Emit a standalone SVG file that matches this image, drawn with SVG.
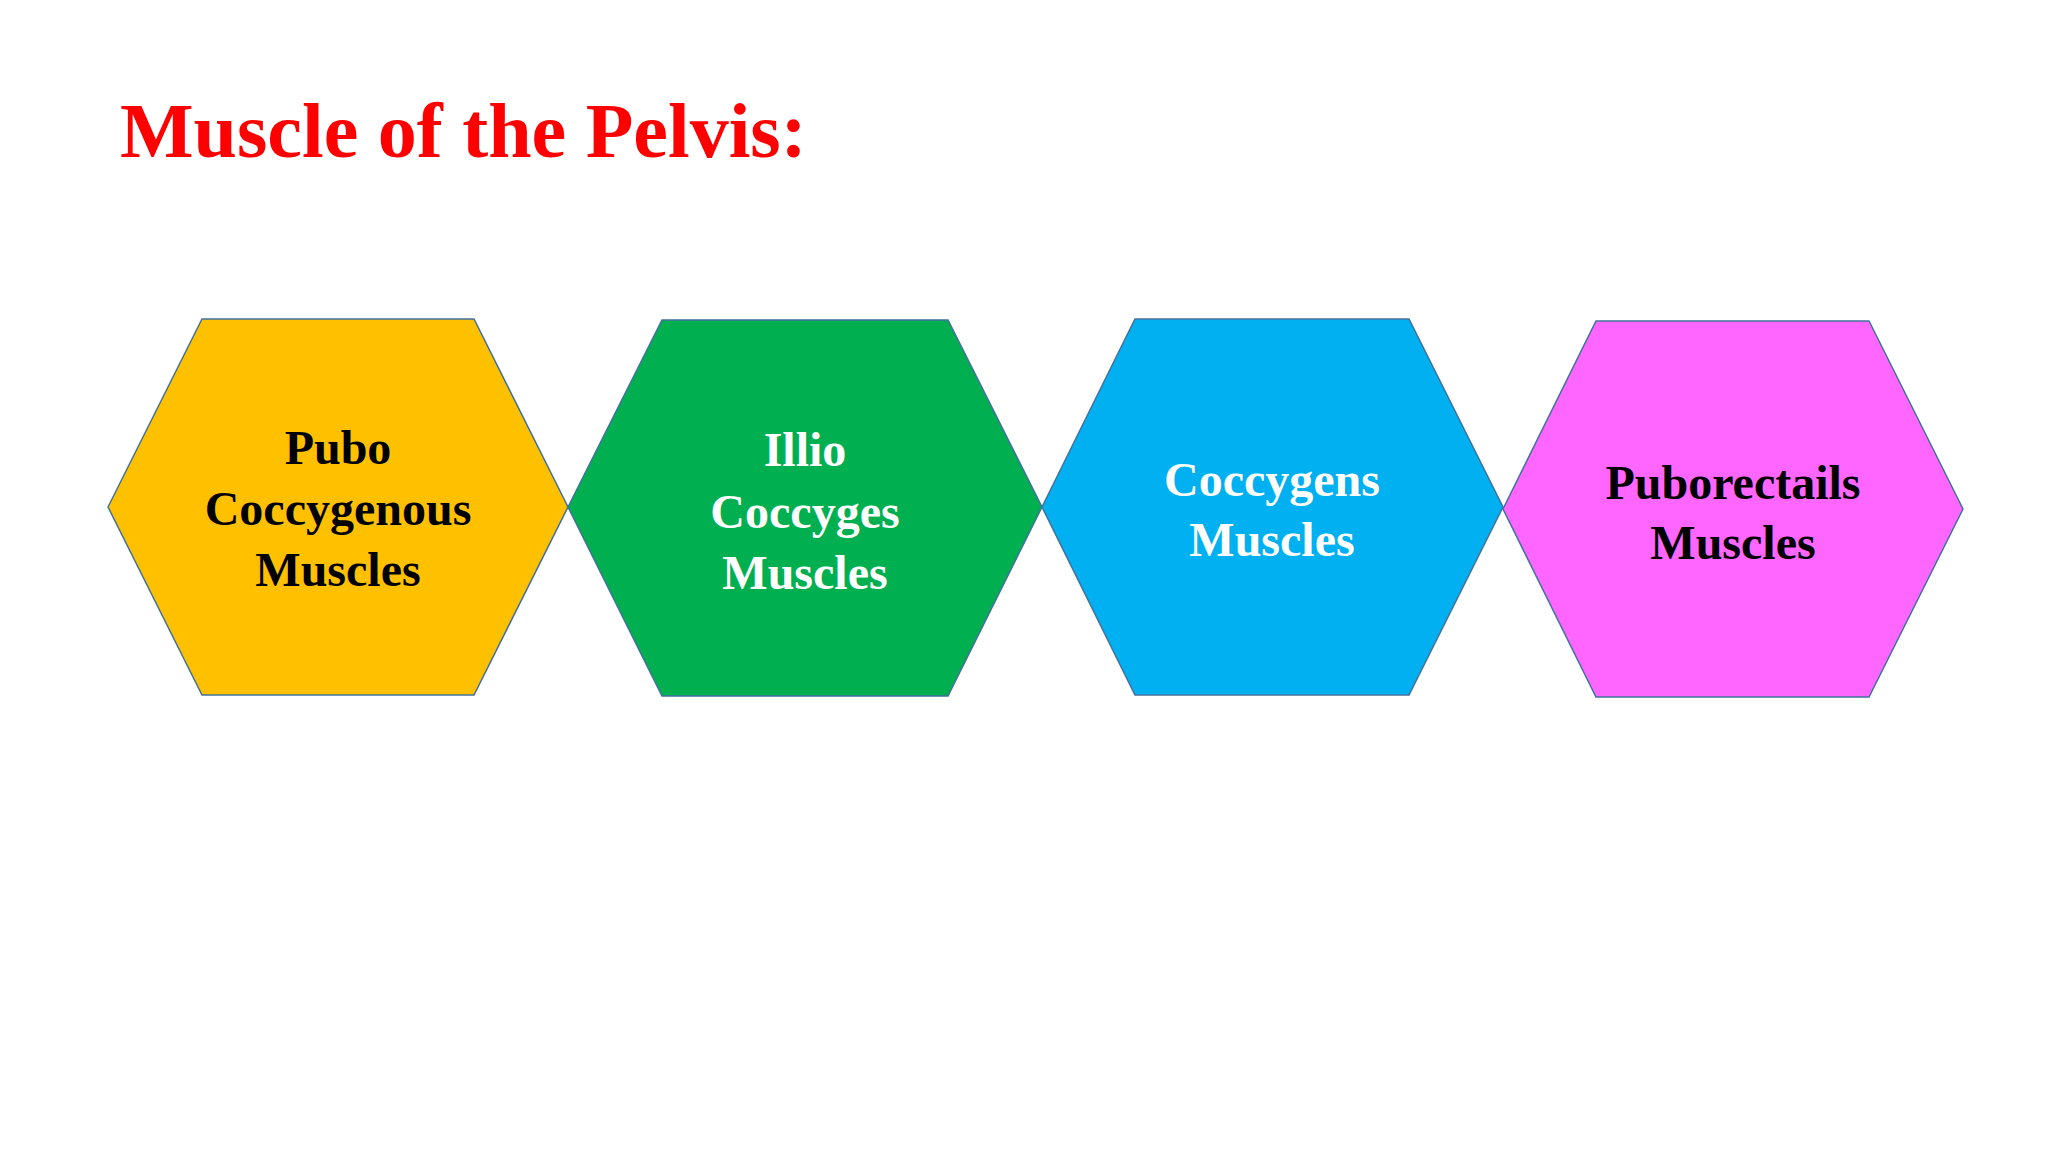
<svg xmlns="http://www.w3.org/2000/svg" width="2048" height="1152" viewBox="0 0 2048 1152">
<style>
.hex{stroke:#41719C;stroke-width:1.5}
.t{font-family:"Liberation Serif",serif;font-weight:bold;font-size:48px;text-anchor:middle}
.dark{fill:#000}.light{fill:#fff}
</style>
<rect width="2048" height="1152" fill="#fff"/>
<text x="120" y="157" font-family="Liberation Serif,serif" font-weight="bold" font-size="78" fill="#FF0000">Muscle of the Pelvis:</text>
<g id="node1"><polygon class="hex" fill="#FFC000" points="108,507 202,319 474,319 568,507 474,695 202,695"/>
<text class="t dark" x="338" y="464">Pubo</text><text class="t dark" x="338" y="525">Coccygenous</text><text class="t dark" x="338" y="586">Muscles</text></g>
<g id="node2"><polygon class="hex" fill="#00B050" points="568,507 662,320 948,320 1042,507 948,696 662,696"/>
<text class="t light" x="805" y="466">Illio</text><text class="t light" x="805" y="528">Coccyges</text><text class="t light" x="805" y="589">Muscles</text></g>
<g id="node3"><polygon class="hex" fill="#00B0F0" points="1042,507 1135,319 1409,319 1503,507 1409,695 1135,695"/>
<text class="t light" x="1272" y="496">Coccygens</text><text class="t light" x="1272" y="556">Muscles</text></g>
<g id="node4"><polygon class="hex" fill="#FF66FF" points="1503,509 1596,321 1869,321 1963,509 1869,697 1596,697"/>
<text class="t dark" x="1733" y="499">Puborectails</text><text class="t dark" x="1733" y="559">Muscles</text></g>
<g id="connectors"></g>
</svg>
